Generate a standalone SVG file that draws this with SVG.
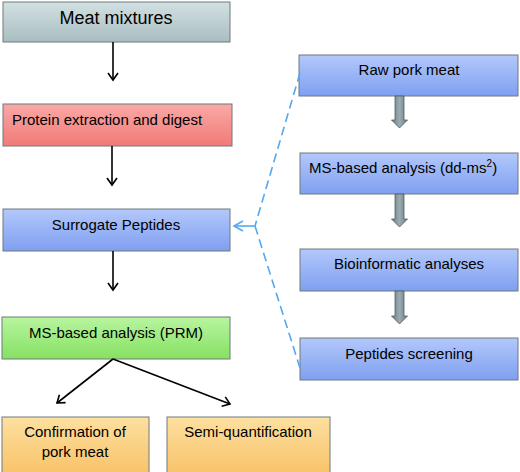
<svg xmlns="http://www.w3.org/2000/svg" width="520" height="472" viewBox="0 0 520 472">
<defs>
<linearGradient id="gGray" x1="0" y1="0" x2="0" y2="1"><stop offset="0" stop-color="#d2e0e2"/><stop offset="1" stop-color="#a9bdc1"/></linearGradient>
<linearGradient id="gRed" x1="0" y1="0" x2="0" y2="1"><stop offset="0" stop-color="#faa9a6"/><stop offset="1" stop-color="#f17a77"/></linearGradient>
<linearGradient id="gBlue" x1="0" y1="0" x2="0" y2="1"><stop offset="0" stop-color="#b3c8fb"/><stop offset="1" stop-color="#7f9ff0"/></linearGradient>
<linearGradient id="gGreen" x1="0" y1="0" x2="0" y2="1"><stop offset="0" stop-color="#b8f5a0"/><stop offset="1" stop-color="#86e062"/></linearGradient>
<linearGradient id="gOrange" x1="0" y1="0" x2="0" y2="1"><stop offset="0" stop-color="#fde0a0"/><stop offset="1" stop-color="#f8c36a"/></linearGradient>
<linearGradient id="gArrow" x1="0" y1="0" x2="1" y2="0"><stop offset="0" stop-color="#6a7c82"/><stop offset="0.5" stop-color="#9aacb2"/><stop offset="1" stop-color="#6a7c82"/></linearGradient>
<marker id="ah" markerWidth="12" markerHeight="12" refX="10" refY="6" orient="auto" markerUnits="userSpaceOnUse"><path d="M3,1 L10,6 L3,11" fill="none" stroke="#000" stroke-width="1.6"/></marker>
<marker id="ahb" markerWidth="14" markerHeight="14" refX="11" refY="7" orient="auto" markerUnits="userSpaceOnUse"><path d="M2,2 L11,7 L2,12" fill="none" stroke="#55a8ef" stroke-width="1.6"/></marker>
<style>
.box{stroke:#6f7a7c;stroke-width:1}
.t{font-family:"Liberation Sans",Arial,sans-serif;font-size:15px;fill:#000}
.c{text-anchor:middle}
.conn{stroke:#000;stroke-width:1.6;fill:none}
.dash{stroke:#55a8ef;stroke-width:1.6;fill:none;stroke-dasharray:9,5}
.garrow{fill:url(#gArrow);stroke:#4f5a5e;stroke-width:0.8}
</style>
</defs>
<g id="meat-mixtures"><rect class="box" x="3" y="2" width="227" height="40" fill="url(#gGray)"/><text class="t c" x="116" y="24" style="font-size:18px">Meat mixtures</text></g>
<g id="protein-extraction"><rect class="box" x="3" y="104" width="229" height="42" fill="url(#gRed)"/><text class="t" x="12" y="125">Protein extraction and digest</text></g>
<g id="surrogate-peptides"><rect class="box" x="3" y="209" width="227" height="42" fill="url(#gBlue)"/><text class="t c" x="116" y="230">Surrogate Peptides</text></g>
<g id="ms-prm"><rect class="box" x="2" y="317" width="228" height="42" fill="url(#gGreen)"/><text class="t c" x="116" y="338">MS-based analysis (PRM)</text></g>
<g id="confirmation"><rect class="box" x="2" y="417" width="147" height="56" fill="url(#gOrange)"/><text class="t c" x="75" y="437">Confirmation of</text><text class="t c" x="75" y="457">pork meat</text></g>
<g id="semi-quantification"><rect class="box" x="167" y="417" width="163" height="56" fill="url(#gOrange)"/><text class="t c" x="248" y="437">Semi-quantification</text></g>
<g id="raw-pork"><rect class="box" x="299" y="55" width="219" height="41" fill="url(#gBlue)"/><text class="t c" x="409" y="75">Raw pork meat</text></g>
<g id="ms-ddms2"><rect class="box" x="300" y="153" width="218" height="41" fill="url(#gBlue)"/><text class="t" x="309" y="173">MS-based analysis (dd-ms<tspan dy="-6" style="font-size:10px">2</tspan><tspan dy="6">)</tspan></text></g>
<g id="bioinformatic"><rect class="box" x="300" y="249" width="218" height="42" fill="url(#gBlue)"/><text class="t c" x="409" y="269">Bioinformatic analyses</text></g>
<g id="peptides-screening"><rect class="box" x="300" y="338" width="218" height="42" fill="url(#gBlue)"/><text class="t c" x="409" y="359">Peptides screening</text></g>
<g id="connectors">
<line class="conn" x1="113" y1="42" x2="113" y2="80" marker-end="url(#ah)"/>
<line class="conn" x1="112" y1="146" x2="112" y2="185" marker-end="url(#ah)"/>
<line class="conn" x1="113" y1="251" x2="113" y2="290" marker-end="url(#ah)"/>
<line class="conn" x1="113" y1="359" x2="57" y2="403" marker-end="url(#ah)"/>
<line class="conn" x1="113" y1="359" x2="230" y2="404" marker-end="url(#ah)"/>
<path class="garrow" d="M395,96 L404,96 L404,120 L407.5,120 L399.5,128 L391.5,120 L395,120 Z"/>
<path class="garrow" d="M395,194 L404,194 L404,219 L407.5,219 L399.5,227 L391.5,219 L395,219 Z"/>
<path class="garrow" d="M395,291 L404,291 L404,316 L407.5,316 L399.5,324 L391.5,316 L395,316 Z"/>
<path class="dash" d="M300,73 L255,226"/>
<path class="dash" d="M255,226 L300,368"/>
<line x1="255" y1="226" x2="234" y2="226" stroke="#55a8ef" stroke-width="1.6" marker-end="url(#ahb)"/>
</g>
</svg>
